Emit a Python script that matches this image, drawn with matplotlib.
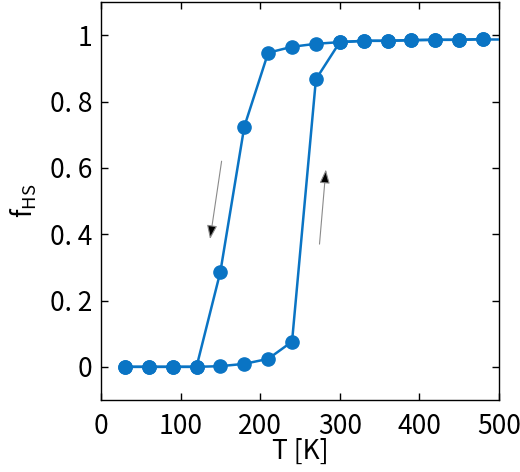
import matplotlib
matplotlib.use('Agg')
import matplotlib.pyplot as plt

plt.rcParams['font.family'] = ['Noto Sans CJK JP', 'DejaVu Sans']

# datos
T = [30, 60, 90, 120, 150, 180, 210, 240, 270, 300, 330, 360, 390, 420, 450, 480]
f_enfriando = [0, 0, 0, 0, 0.287, 0.724, 0.947, 0.965, 0.974, 0.979, 0.983, 0.983, 0.985, 0.986, 0.986, 0.988]
f_calentando = [0, 0, 0, 0, 0.002, 0.009, 0.024, 0.076, 0.867, 0.979, 0.983, 0.983, 0.985, 0.986, 0.986, 0.988]
T_extra = [480, 510]
f_extra = [0.988, 0.988]

xticks = [0, 100, 200, 300, 400, 500]
yticks = [0, 0.2, 0.4, 0.6, 0.8, 1]
ytick_labels = ['0', '0. 2', '0. 4', '0. 6', '0. 8', '1']

# flechas: (inicio, fin) en coordenadas de datos
flecha_enfr = ((151.5, 0.62), (137, 0.385))
flecha_cal = ((274.5, 0.37), (282.5, 0.595))

azul = '#0a74c4'

fig = plt.figure(figsize=(5.2, 4.72), dpi=100)
ax = fig.add_axes([101/520, 72/472, 398/520, 398/472])

ax.plot(T, f_enfriando, '-o', color=azul, lw=1.8, ms=9.5, clip_on=False, zorder=3)
ax.plot(T, f_calentando, '-o', color=azul, lw=1.8, ms=9.5, clip_on=False, zorder=3)
ax.plot(T_extra, f_extra, '-', color=azul, lw=1.8, zorder=3)

for (ini, fin) in (flecha_enfr, flecha_cal):
    ax.annotate('', xy=fin, xytext=ini,
                arrowprops=dict(arrowstyle='-|>,head_length=0.6,head_width=0.22',
                                edgecolor='#8a8a8a', facecolor='black', lw=0.8,
                                mutation_scale=14, shrinkA=0, shrinkB=0))

ax.set_xlim(0, 500)
ax.set_ylim(-0.1, 1.1)
ax.set_xticks(xticks)
ax.set_yticks(yticks)
ax.set_yticklabels(ytick_labels)
ax.tick_params(direction='in', top=True, right=True, length=5, width=1,
               labelsize=19)
ax.tick_params(axis='x', pad=9)
ax.tick_params(axis='y', pad=6)
for s in ax.spines.values():
    s.set_linewidth(1)

ax.set_xlabel('T [K]', fontsize=19, labelpad=-1)
ax.set_ylabel('f$_{\\mathregular{HS}}$', fontsize=19, labelpad=8)

fig.savefig('out.png', dpi=100)
